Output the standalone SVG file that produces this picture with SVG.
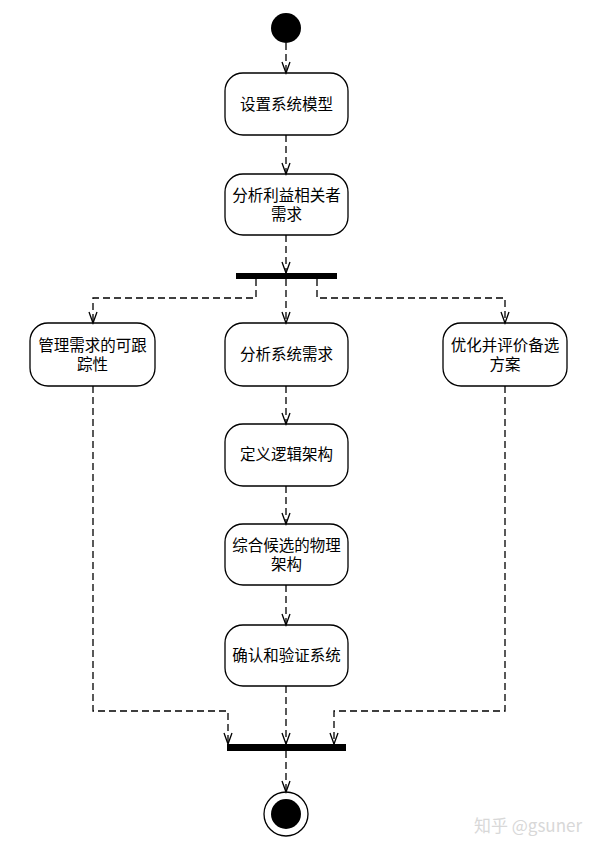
<svg xmlns="http://www.w3.org/2000/svg" width="599" height="852" viewBox="0 0 599 852">
<style>
.node rect{fill:#fff;stroke:#000;stroke-width:1.3}
.node text{font-family:"Noto Sans CJK SC","Liberation Sans",sans-serif;font-size:15.5px;fill:#000;text-anchor:middle}
.conn{fill:none;stroke:#000;stroke-width:1.3;stroke-dasharray:7 4;marker-end:url(#arr)}
.bar{fill:#000}
</style>
<defs>
<marker id="arr" markerUnits="userSpaceOnUse" viewBox="-12 -6 14 12" refX="0" refY="0" markerWidth="14" markerHeight="12" orient="auto">
<path d="M-11,-4 L0,0 L-11,4" fill="none" stroke="#000" stroke-width="1.3"/>
</marker>
</defs>
<rect width="599" height="852" fill="#fff"/>
<g id="start"><circle cx="286" cy="28" r="15" fill="#000"/></g>
<g id="n1" class="node"><rect x="225" y="73" width="123" height="62" rx="18"/><text x="286.5" y="110">设置系统模型</text></g>
<g id="n2" class="node"><rect x="225" y="174" width="123" height="61" rx="18"/><text x="286.5" y="201">分析利益相关者<tspan x="286.5" dy="19">需求</tspan></text></g>
<g id="fork"><rect class="bar" x="236" y="273" width="101" height="6"/></g>
<g id="n3" class="node"><rect x="30" y="323" width="125" height="63" rx="18"/><text x="92.5" y="351">管理需求的可跟<tspan x="92.5" dy="19">踪性</tspan></text></g>
<g id="n4" class="node"><rect x="225" y="323" width="123" height="63" rx="18"/><text x="286.5" y="360">分析系统需求</text></g>
<g id="n5" class="node"><rect x="443" y="323" width="124" height="63" rx="18"/><text x="505" y="351">优化并评价备选<tspan x="505" dy="19">方案</tspan></text></g>
<g id="n6" class="node"><rect x="225" y="424" width="123" height="62" rx="18"/><text x="286.5" y="460">定义逻辑架构</text></g>
<g id="n7" class="node"><rect x="225" y="524" width="123" height="61" rx="18"/><text x="286.5" y="551">综合候选的物理<tspan x="286.5" dy="19">架构</tspan></text></g>
<g id="n8" class="node"><rect x="225" y="625" width="123" height="61" rx="18"/><text x="286.5" y="661">确认和验证系统</text></g>
<g id="join"><rect class="bar" x="227" y="744" width="119" height="7"/></g>
<g id="end"><circle cx="286" cy="814" r="22" fill="#fff" stroke="#000" stroke-width="1.3"/><circle cx="286" cy="814" r="15" fill="#000"/></g>
<g id="connectors">
<path class="conn" d="M286,43 V73"/>
<path class="conn" d="M286,135 V174"/>
<path class="conn" d="M286,235 V273"/>
<path class="conn" d="M286,279 V323"/>
<path class="conn" d="M256,279 V298 H93 V323"/>
<path class="conn" d="M317,279 V298 H505 V323"/>
<path class="conn" d="M286,386 V424"/>
<path class="conn" d="M286,486 V524"/>
<path class="conn" d="M286,585 V625"/>
<path class="conn" d="M93,386 V711 H228 V744"/>
<path class="conn" d="M286,686 V744"/>
<path class="conn" d="M505,386 V711 H334 V744"/>
<path class="conn" d="M286,751 V792"/>
</g>
<text x="528" y="832" font-family="'Noto Sans CJK SC','Liberation Sans',sans-serif" font-size="17" fill="#d8d8d8" text-anchor="middle">知乎 @gsuner</text>
</svg>
